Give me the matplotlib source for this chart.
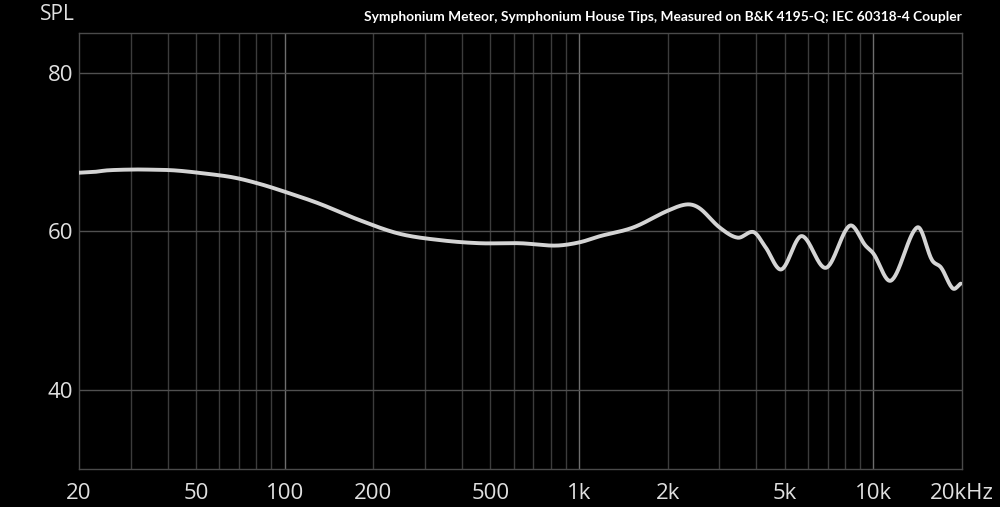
import numpy as np
import matplotlib
matplotlib.use("Agg")
import matplotlib.pyplot as plt
from matplotlib.ticker import FixedLocator, NullFormatter

# ---- data ----
freq_hz = [20, 22.5, 25, 30, 33.4, 42, 53.5, 67, 82, 100, 131, 180, 245, 335, 460,
           630, 830, 1000, 1180, 1530, 2000, 2330, 2570, 3000, 3460, 3920, 4300,
           4870, 5700, 6900, 8300, 9400, 10000, 11500, 14100, 15800, 17000, 18600, 19800]
spl_db = [67.4, 67.5, 67.7, 67.8, 67.8, 67.7, 67.3, 66.8, 66.0, 65.0, 63.5, 61.4, 59.7,
          58.9, 58.5, 58.5, 58.2, 58.6, 59.4, 60.5, 62.6, 63.4, 62.9, 60.5, 59.2,
          59.9, 58.0, 55.2, 59.4, 55.4, 60.7, 58.2, 57.2, 53.8, 60.5, 56.4, 55.4, 52.8, 53.4]

xtick_vals = [20, 50, 100, 200, 500, 1000, 2000, 5000, 10000, 20000]
xtick_labels = ["20", "50", "100", "200", "500", "1k", "2k", "5k", "10k", "20kHz"]
ytick_vals = [40, 60, 80]
title_text = "Symphonium Meteor, Symphonium House Tips, Measured on B&K 4195-Q; IEC 60318-4 Coupler"

tick_font = "Open Sans"

lf = np.log10(freq_hz)
grid = np.linspace(lf[0], lf[-1], 1200)

def hermite(x, y, xs):
    x = np.asarray(x); y = np.asarray(y)
    m = np.zeros_like(y)
    m[1:-1] = (y[2:] - y[:-2]) / (x[2:] - x[:-2])
    m[0] = (y[1] - y[0]) / (x[1] - x[0])
    m[-1] = (y[-1] - y[-2]) / (x[-1] - x[-2])
    out = np.empty_like(xs)
    idx = np.clip(np.searchsorted(x, xs) - 1, 0, len(x) - 2)
    for j, xv in enumerate(xs):
        i = idx[j]
        h = x[i + 1] - x[i]
        t = (xv - x[i]) / h
        h00 = 2*t**3 - 3*t**2 + 1
        h10 = t**3 - 2*t**2 + t
        h01 = -2*t**3 + 3*t**2
        h11 = t**3 - t**2
        out[j] = h00*y[i] + h10*h*m[i] + h01*y[i+1] + h11*h*m[i+1]
    return out

curve = hermite(lf, spl_db, grid)

fig = plt.figure(figsize=(10, 5.07), dpi=100, facecolor="black")
ax = fig.add_axes([0.079, 0.075, 0.883, 0.8593], facecolor="black")

ax.set_xscale("log")
ax.set_xlim(20, 20000)
ax.set_ylim(30, 85)

minor = []
for dec in [10, 100, 1000, 10000]:
    for k in range(2, 10):
        v = dec * k
        if 20 < v < 20000 and v not in (100, 1000, 10000):
            minor.append(v)
for v in minor:
    ax.axvline(v, color="#3c3c3c", lw=1.0, zorder=1)
for v in (100, 1000, 10000):
    ax.axvline(v, color="#6e6e6e", lw=1.0, zorder=1)
for v in ytick_vals:
    ax.axhline(v, color="#505050", lw=1.0, zorder=1)

for s in ax.spines.values():
    s.set_color("#4a4a4a")
    s.set_linewidth(1.0)

ax.plot(10**grid, curve, color="#d4d4d4", lw=2.8, zorder=3, solid_capstyle="round")

ax.set_xticks(xtick_vals)
ax.set_xticklabels(xtick_labels)
ax.xaxis.set_minor_formatter(NullFormatter())
ax.xaxis.set_minor_locator(FixedLocator([]))
ax.set_yticks(ytick_vals)
ax.set_yticklabels([str(v) for v in ytick_vals])
ax.tick_params(axis="both", length=0, colors="#e0e0e0", labelsize=16)
ax.tick_params(axis="x", pad=10)
ax.tick_params(axis="y", pad=4)
for lab in ax.get_xticklabels() + ax.get_yticklabels():
    lab.set_fontfamily(tick_font)
    lab.set_color("#e0e0e0")

fig.text(0.075, 0.972, "SPL", ha="right", va="center", color="#e0e0e0",
         fontsize=15, fontfamily=tick_font)
fig.text(0.962, 0.966, title_text, ha="right", va="center", color="white",
         fontsize=9.9, fontweight="bold", fontfamily="Lato")

fig.savefig("out.png", dpi=100, facecolor="black")
